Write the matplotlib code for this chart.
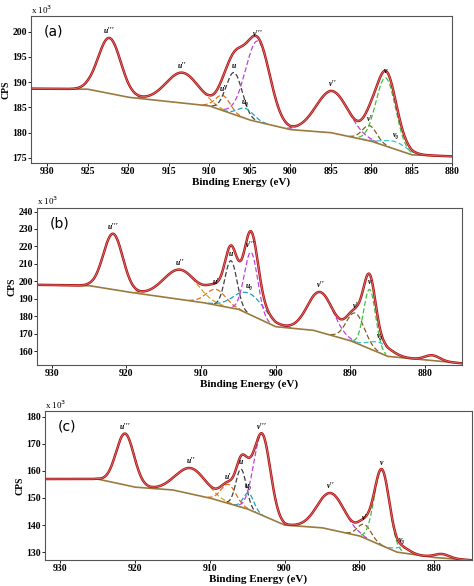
import numpy as np
import matplotlib
matplotlib.use("Agg")
import matplotlib.pyplot as plt

# ---- data (peak parameters: label, centre eV, height kCPS, sigma eV) ----
bg_a_x = [932, 925, 920, 910, 905, 900, 895, 890, 885, 880]
bg_a_y = [188.7, 188.6, 187.0, 185.3, 182.5, 180.6, 180.0, 178.3, 175.6, 175.3]
lab_a = ["u'''", "u''", "u'", "u", "u0", "v'''", "v''", "v'", "v", "v0"]
cen_a = [922.3, 913.3, 908.3, 906.9, 905.5, 904.0, 894.8, 890.2, 888.2, 887.0]
hgt_a = [11.0, 6.0, 3.0, 8.3, 2.0, 16.0, 8.3, 3.0, 13.5, 1.5]
sig_a = [1.4, 2.0, 0.9, 1.0, 1.0, 1.5, 2.0, 0.9, 1.2, 1.5]

bg_b_x = [932, 925, 920, 910, 905, 900, 895, 890, 885, 880, 875]
bg_b_y = [198, 197.5, 194, 188, 184, 174, 172, 166, 157, 155, 153]
lab_b = ["u'''", "u''", "u'", "u", "u0", "v'''", "v''", "v'", "v", "v0", ""]
cen_b = [921.8, 912.8, 908.0, 906.0, 903.5, 903.3, 894.0, 889.3, 887.4, 886.0, 879.0]
hgt_b = [32, 17, 9, 27, 12, 36, 23, 17, 34, 6, 3]
sig_b = [1.3, 2.2, 1.3, 0.8, 2.0, 0.9, 1.7, 1.2, 0.8, 1.5, 1.0]

bg_c_x = [932, 925, 920, 915, 910, 905, 900, 895, 890, 885, 880, 875]
bg_c_y = [157, 157, 154, 153, 150, 146, 140, 139, 136, 130, 128, 127]
lab_c = ["u'''", "u''", "u'", "u", "u0", "v'''", "v''", "v'", "v", "v0", ""]
cen_c = [921.3, 912.5, 907.5, 905.8, 904.8, 903.0, 893.8, 889.3, 887.0, 884.3, 879.0]
hgt_c = [19, 9.5, 7, 14, 6, 30, 13.5, 5, 28, 2, 1.5]
sig_c = [1.2, 2.0, 1.0, 0.7, 0.7, 1.1, 1.8, 0.9, 1.0, 1.0, 1.0]

panels = [
    ("(a)", bg_a_x, bg_a_y, lab_a, cen_a, hgt_a, sig_a, (932, 880), (174, 203), [175, 180, 185, 190, 195, 200]),
    ("(b)", bg_b_x, bg_b_y, lab_b, cen_b, hgt_b, sig_b, (932, 875), (152, 242), [160, 170, 180, 190, 200, 210, 220, 230, 240]),
    ("(c)", bg_c_x, bg_c_y, lab_c, cen_c, hgt_c, sig_c, (932, 875), (127, 182), [130, 140, 150, 160, 170, 180]),
]
rects = [[0.065, 0.722, 0.889, 0.250], [0.078, 0.377, 0.897, 0.268], [0.095, 0.044, 0.900, 0.254]]
comp_colors = ["#3040c0", "#d4a020", "#e07020", "#404040", "#20a0c0", "#c040e0",
               "#c040e0", "#806020", "#40c040", "#40c0d0", "#c04040"]

fig = plt.figure(figsize=(4.74, 5.86), dpi=100)
serif = "Liberation Serif"
for (tag, bx, by, labs, cens, hs, ss, xl, yl, yt), r in zip(panels, rects):
    ax = fig.add_axes(r)
    x = np.linspace(xl[0], xl[1], 1500)
    bg = np.interp(x, bx[::-1], by[::-1])
    total = bg.copy()
    for i, (lab, c, h, s) in enumerate(zip(labs, cens, hs, ss)):
        g = h * np.exp(-0.5 * ((x - c) / s) ** 2)
        total += g
        m = g > 0.02 * h
        if lab:
            ax.plot(x[m], (bg + g)[m], ls=(0, (4, 2)), lw=0.9, color=comp_colors[i % len(comp_colors)])
            yb = np.interp(c, bx[::-1], by[::-1]) + h
            ax.text(c, yb + (yl[1] - yl[0]) * 0.02, lab.replace("0", "₀"), fontsize=5.5, family=serif,
                    style="italic", fontweight="bold", ha="center", va="bottom")
    ax.plot(x, bg, color="#9a7a40", lw=1.2)
    ax.plot(x, total, color="#b01818", lw=1.8)
    ax.plot(x, total, color="#e08080", lw=0.5)
    ax.set_xlim(*xl)
    ax.set_ylim(*yl)
    ax.set_yticks(yt)
    ax.set_xticks([930, 920, 910, 900, 890, 880] if xl[1] == 875 else [930, 925, 920, 915, 910, 905, 900, 895, 890, 885, 880])
    for lab in ax.get_xticklabels() + ax.get_yticklabels():
        lab.set_fontfamily(serif)
        lab.set_fontweight("bold")
        lab.set_fontsize(7)
    ax.tick_params(direction="out", length=2, width=0.6, pad=1)
    for sp in ax.spines.values():
        sp.set_linewidth(0.8)
        sp.set_color("#555555")
    ax.set_xlabel("Binding Energy (eV)", family=serif, fontweight="bold", fontsize=8, labelpad=1)
    ax.set_ylabel("CPS", family=serif, fontweight="bold", fontsize=7, labelpad=1)
    ax.text(0.03, 0.90, tag, transform=ax.transAxes, fontsize=10, ha="left", va="center")
    ax.text(0.0, 1.005, "x 10$^3$", transform=ax.transAxes, fontsize=6.5, family=serif, ha="left", va="bottom")

fig.savefig("out.png", dpi=100)
